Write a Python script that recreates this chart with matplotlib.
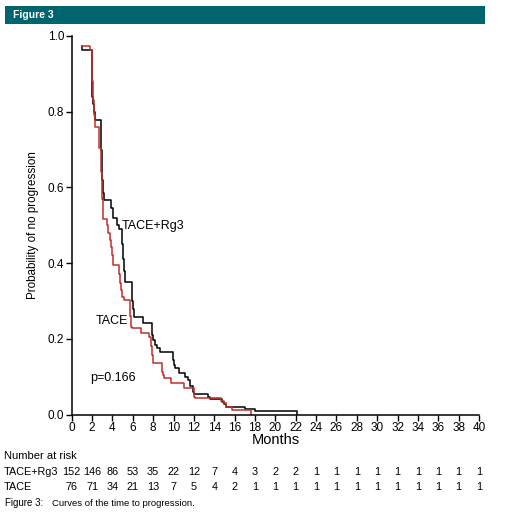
import matplotlib
matplotlib.use("Agg")
import matplotlib.pyplot as plt
from matplotlib.patches import Rectangle
from matplotlib.transforms import blended_transform_factory

# time to progression (months) and probability of no progression, step curves
t_rg3 = [1.0, 1.0, 2.0, 2.1, 2.2, 2.3, 2.9, 2.95, 3.0, 3.05, 3.2, 3.9, 4.1, 4.4,
         4.6, 4.9, 5.0, 5.1, 5.25, 5.9, 6.0, 6.1, 7.0, 7.9, 8.0, 8.2, 8.4, 8.7,
         9.9, 10.0, 10.1, 10.5, 11.15, 11.4, 11.6, 11.9, 12.0, 13.4, 13.6, 14.8,
         15.0, 15.2, 17.0, 18.0, 22.1]
s_rg3 = [0.974, 0.963, 0.84, 0.82, 0.80, 0.777, 0.70, 0.66, 0.62, 0.585, 0.567,
         0.545, 0.52, 0.50, 0.49, 0.45, 0.41, 0.38, 0.351, 0.30, 0.28, 0.258,
         0.242, 0.21, 0.197, 0.184, 0.175, 0.166, 0.144, 0.13, 0.123, 0.11, 0.10,
         0.091, 0.075, 0.06, 0.053, 0.047, 0.041, 0.034, 0.028, 0.021, 0.015,
         0.008, 0.0]

t_tace = [1.0, 1.8, 1.97, 2.05, 2.2, 2.3, 2.65, 2.85, 2.95, 3.05, 3.45, 3.6, 3.75,
          3.9, 4.0, 4.1, 4.6, 4.7, 4.8, 4.95, 5.1, 5.75, 5.8, 5.9, 6.8, 7.6, 7.75,
          7.85, 7.95, 8.0, 8.9, 9.0, 9.1, 9.75, 11.0, 12.0, 12.1, 14.7, 15.0, 15.2,
          15.7, 17.6]
s_tace = [0.974, 0.963, 0.88, 0.83, 0.79, 0.759, 0.704, 0.64, 0.57, 0.516, 0.50,
          0.48, 0.461, 0.443, 0.421, 0.395, 0.37, 0.347, 0.329, 0.311, 0.302, 0.26,
          0.232, 0.228, 0.215, 0.205, 0.18, 0.157, 0.14, 0.136, 0.113, 0.105,
          0.096, 0.083, 0.069, 0.047, 0.043, 0.035, 0.03, 0.021, 0.012, 0.0]

risk_times = list(range(0, 41, 2))
risk_rg3 = [152, 146, 86, 53, 35, 22, 12, 7, 4, 3, 2, 2, 1, 1, 1, 1, 1, 1, 1, 1, 1]
risk_tace = [76, 71, 34, 21, 13, 7, 5, 4, 2, 1, 1, 1, 1, 1, 1, 1, 1, 1, 1, 1, 1]

W, H = 507, 516
plt.rcParams['font.family'] = ['Liberation Sans', 'DejaVu Sans']

fig = plt.figure(figsize=(W / 100, H / 100), dpi=100)
fig.patch.set_facecolor('white')

# teal header bar
fig.patches.append(Rectangle((5 / W, 1 - 24 / H), 480 / W, 18 / H,
                             transform=fig.transFigure, facecolor='#00646f',
                             edgecolor='none'))
fig.text(13 / W, 1 - 15 / H, 'Figure 3', color='white', fontsize=7.5,
         fontweight='bold', va='center', ha='left')

ax = fig.add_axes([71.7 / W, 1 - 414.5 / H, (479 - 71.7) / W, (414.5 - 36) / H])
ax.step(t_rg3, s_rg3, where='post', color='black', lw=1.1)
ax.step(t_tace, s_tace, where='post', color='#c0302a', lw=1.1)

ax.set_xlim(0, 40)
ax.set_ylim(0, 1.0)
ax.set_xticks(risk_times)
ax.set_yticks([0.0, 0.2, 0.4, 0.6, 0.8, 1.0])
ax.set_yticklabels(['0.0', '0.2', '0.4', '0.6', '0.8', '1.0'])
ax.tick_params(length=4, width=1, labelsize=8.5, pad=1.5)
for side in ['top', 'right']:
    ax.spines[side].set_visible(False)
for side in ['left', 'bottom']:
    ax.spines[side].set_linewidth(1.1)
ax.set_xlabel('Months', fontsize=10.5, labelpad=-1)
ax.set_ylabel('Probability of no progression', fontsize=8.4, labelpad=6)

ax.text(4.95, 0.498, 'TACE+Rg3', fontsize=9, ha='left', va='center')
ax.text(5.55, 0.248, 'TACE', fontsize=9, ha='right', va='center')
ax.text(1.8, 0.096, 'p=0.166', fontsize=9, ha='left', va='center')

# number at risk table
tr = blended_transform_factory(ax.transData, fig.transFigure)
fig.text(4 / W, 1 - 456 / H, 'Number at risk', fontsize=8, va='center')
fig.text(4 / W, 1 - 472 / H, 'TACE+Rg3', fontsize=7.8, va='center')
fig.text(4 / W, 1 - 487 / H, 'TACE', fontsize=7.8, va='center')
for t, a, b in zip(risk_times, risk_rg3, risk_tace):
    ax.text(t, 1 - 472 / H, str(a), transform=tr, fontsize=7.8,
            ha='center', va='center', clip_on=False)
    ax.text(t, 1 - 487 / H, str(b), transform=tr, fontsize=7.8,
            ha='center', va='center', clip_on=False)

fig.text(5 / W, 1 - 503 / H, 'Figure 3:', fontsize=7, va='center')
fig.text(52 / W, 1 - 503 / H, 'Curves of the time to progression.',
         fontsize=6.8, va='center')

fig.savefig('out.png', dpi=100)
